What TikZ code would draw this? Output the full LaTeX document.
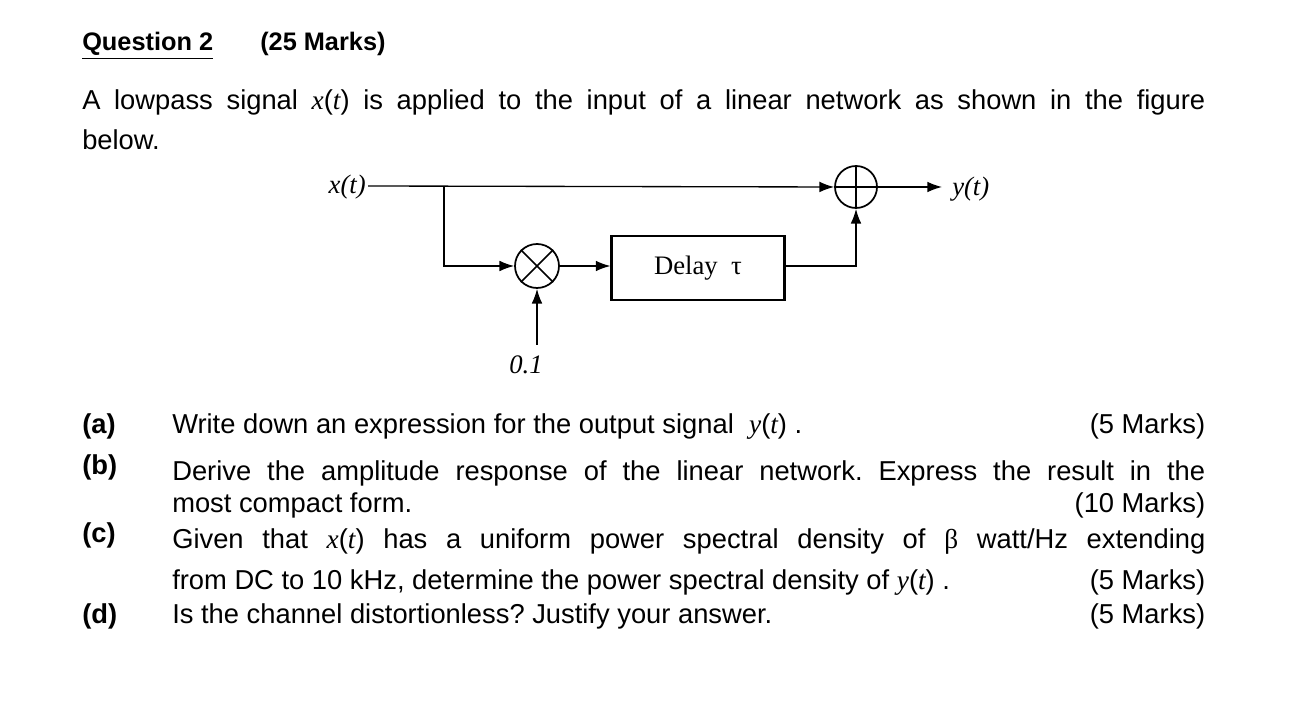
\documentclass[tikz,border=0pt]{standalone}
\usepackage{fontspec}
\setmainfont{Liberation Sans}
\newfontfamily\ser{Liberation Serif}
\usetikzlibrary{arrows.meta}
\newcommand{\mi}[1]{{\ser\itshape #1}}
\frenchspacing
\begin{document}
\begin{tikzpicture}[x=0.75pt,y=-0.75pt,
  txt/.style={inner sep=0pt,anchor=base west,font=\fontsize{20.5pt}{30pt}\selectfont},
  bld/.style={txt,font=\bfseries\fontsize{20.5pt}{30pt}\selectfont},
  dg/.style={inner sep=0pt,font=\ser\fontsize{20pt}{22pt}\selectfont},
  wire/.style={line width=1pt},
  arr/.style={wire,-{Latex[length=11pt,width=8pt]}},
  blk/.style={draw,line width=1.6pt,minimum width=173*0.75pt,minimum height=64*0.75pt}]
\fill[white] (0,0) rectangle (1304,712);
\useasboundingbox (0,0) rectangle (1304,712);
% heading
\node[txt,font=\bfseries\fontsize{19pt}{22pt}\selectfont] (q) at (82,51) {\underline{Question 2}};
\node[txt,font=\bfseries\fontsize{19pt}{22pt}\selectfont] (qm) at (260,51) {(25 Marks)};
\node[txt,anchor=north west,text width=1123*0.75pt,align=justify] (intro) at (82,89)
 {A lowpass signal \mi{x}({\ser\itshape t}) is applied to the input of a linear network as shown in the figure\linebreak below.};
% diagram
\node[dg,anchor=base east] (x) at (366,194) {\itshape x(t)};
\node[draw,circle,line width=1.3pt,minimum size=42*0.75pt] (sum) at (856,187) {};
\draw[line width=1.3pt] (sum.north) -- (sum.south) (sum.west) -- (sum.east);
\node[draw,circle,line width=1.3pt,minimum size=44*0.75pt] (mul) at (537,266) {};
\draw[line width=1.3pt] (mul.north west) -- (mul.south east) (mul.north east) -- (mul.south west);
\node[blk] (delay) at (698,268) {};
\node[dg] (dl) at (delay.center) {Delay\ \ τ};
\node[dg,anchor=base west] (y) at (952,196) {\itshape y(t)};
\node[dg,anchor=base] (k) at (526,374) {\itshape 0.1};
\coordinate (xe) at (368,186);
\coordinate (ye) at (942,187);
\coordinate (br) at (444,186);
\coordinate (ks) at (537,345);
\coordinate (de) at (785,266);
\draw[arr] (xe) -- (sum.west);
\draw[arr] (br) |- (mul.west);
\draw[arr] (mul.east) -- (delay.west |- mul.east);
\draw[arr] (delay.east |- de) -| (sum.south);
\draw[arr] (sum.east) -- (ye);
\draw[arr] (ks) -- (mul.south);
% questions
\node[bld] (la) at (82,434) {(a)};
\node[bld] (lb) at (82,475) {(b)};
\node[bld] (lc) at (82,543) {(c)};
\node[bld] (ld) at (82,624) {(d)};
\node[txt] (ta) at (172,434) {\hbox to 1033\dimexpr0.75pt\relax{Write down an expression for the output signal \ \mi{y}({\ser\itshape t}) .\hfill (5 Marks)}};
\node[txt,anchor=north west,text width=1033*0.75pt,align=justify,font=\fontsize{20.5pt}{24pt}\selectfont] (tb) at (172,460)
 {Derive the amplitude response of the linear network. Express the result in the\linebreak most compact form.\hfill(10 Marks)};
\node[txt,anchor=north west,text width=1033*0.75pt,align=justify,font=\fontsize{20.5pt}{30.75pt}\selectfont] (tc) at (172,528)
 {Given that \mi{x}({\ser\itshape t}) has a uniform power spectral density of {\ser β} watt/Hz extending\linebreak from DC to 10 kHz, determine the power spectral density of \mi{y}({\ser\itshape t}) .\hfill (5 Marks)};
\node[txt] (td) at (172,624) {\hbox to 1033\dimexpr0.75pt\relax{Is the channel distortionless? Justify your answer.\hfill (5 Marks)}};
\end{tikzpicture}
\end{document}
